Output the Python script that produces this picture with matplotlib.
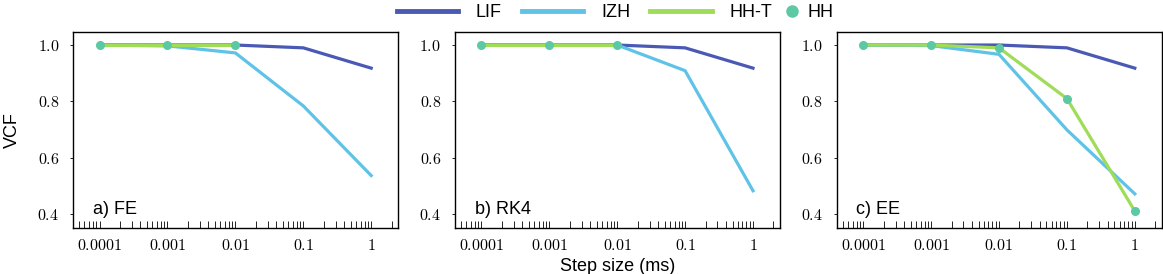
import numpy as np
import matplotlib.pyplot as plt
from matplotlib.lines import Line2D
from matplotlib.ticker import FixedLocator, LogLocator, NullFormatter

plt.rcParams['font.family'] = ['Liberation Sans', 'DejaVu Sans']
plt.rcParams['mathtext.fontset'] = 'cm'

step_sizes = [0.0001, 0.001, 0.01, 0.1, 1]
tick_labels = ["0.0001", "0.001", "0.01", "0.1", "1"]
panels = ["a) FE", "b) RK4", "c) EE"]

lif = [
    [1.0, 1.0, 1.0, 0.99, 0.918],
    [1.0, 1.0, 1.0, 0.99, 0.918],
    [1.0, 1.0, 1.0, 0.99, 0.918],
]
izh = [
    [1.0, 0.997, 0.972, 0.784, 0.537],
    [1.0, 1.0, 1.0, 0.909, 0.483],
    [1.0, 0.998, 0.967, 0.699, 0.472],
]
hh_t = [
    [1.0, 1.0, 1.0, None, None],
    [1.0, 1.0, 1.0, None, None],
    [1.0, 1.0, 0.99, 0.81, 0.411],
]
hh = hh_t

c_lif = "#4a5ab4"
c_izh = "#5ec3e6"
c_hht = "#9fdc58"
c_hh = "#5cc9a4"

fig, axes = plt.subplots(1, 3, figsize=(11.63, 2.74), dpi=100)
fig.subplots_adjust(left=0.063, right=0.999, top=0.883, bottom=0.168, wspace=0.175)

for i, ax in enumerate(axes):
    ht_x = [x for x, v in zip(step_sizes, hh_t[i]) if v is not None]
    ht_y = [v for v in hh_t[i] if v is not None]
    hx = [x for x, v in zip(step_sizes, hh[i]) if v is not None]
    hy = [v for v in hh[i] if v is not None]
    ax.plot(step_sizes, lif[i], color=c_lif, lw=2.3)
    ax.plot(step_sizes, izh[i], color=c_izh, lw=2.3)
    ax.plot(ht_x, ht_y, color=c_hht, lw=2.3)
    ax.plot(hx, hy, 'o', color=c_hh, ms=5.5, lw=0)
    ax.set_xscale('log')
    ax.set_xlim(4.1e-5, 2.5)
    ax.set_ylim(0.351, 1.046)
    ax.xaxis.set_major_locator(FixedLocator(step_sizes))
    ax.set_xticklabels(["$" + t + "$" for t in tick_labels], fontsize=11.5)
    ax.xaxis.set_minor_locator(LogLocator(base=10, subs=np.arange(2, 10)))
    ax.xaxis.set_minor_formatter(NullFormatter())
    ax.tick_params(axis='x', which='major', direction='in', length=5, width=0.6, pad=7)
    ax.tick_params(axis='x', which='minor', direction='in', length=5, width=0.6)
    ax.set_yticks([0.4, 0.6, 0.8, 1.0])
    ax.set_yticklabels(["$0.4$", "$0.6$", "$0.8$", "$1.0$"], fontsize=11.5)
    ax.tick_params(axis='y', direction='out', length=2, width=0.6, pad=8)
    for s in ax.spines.values():
        s.set_linewidth(1.0)
    ax.text(0.06, 0.05, panels[i], transform=ax.transAxes, fontsize=13,
            ha='left', va='bottom')

axes[0].set_ylabel("VCF", fontsize=13, labelpad=12)
axes[1].set_xlabel("Step size (ms)", fontsize=13, labelpad=4)

line_handles = [
    Line2D([], [], color=c_lif, lw=3.5),
    Line2D([], [], color=c_izh, lw=3.5),
    Line2D([], [], color=c_hht, lw=3.5),
]
leg1 = fig.legend(line_handles, ["LIF", "IZH", "HH-T"], loc='upper left',
                  bbox_to_anchor=(0.327, 1.045), ncol=3, frameon=False, fontsize=13,
                  handlelength=3.4, columnspacing=1.1, handletextpad=1.0)
marker_handle = [Line2D([], [], color=c_hh, marker='o', ms=8, lw=0)]
leg2 = fig.legend(marker_handle, ["HH"], loc='upper left',
                  bbox_to_anchor=(0.659, 1.045), frameon=False, fontsize=13,
                  handlelength=1.0, handletextpad=0.4)

fig.savefig("out.png", dpi=100)
